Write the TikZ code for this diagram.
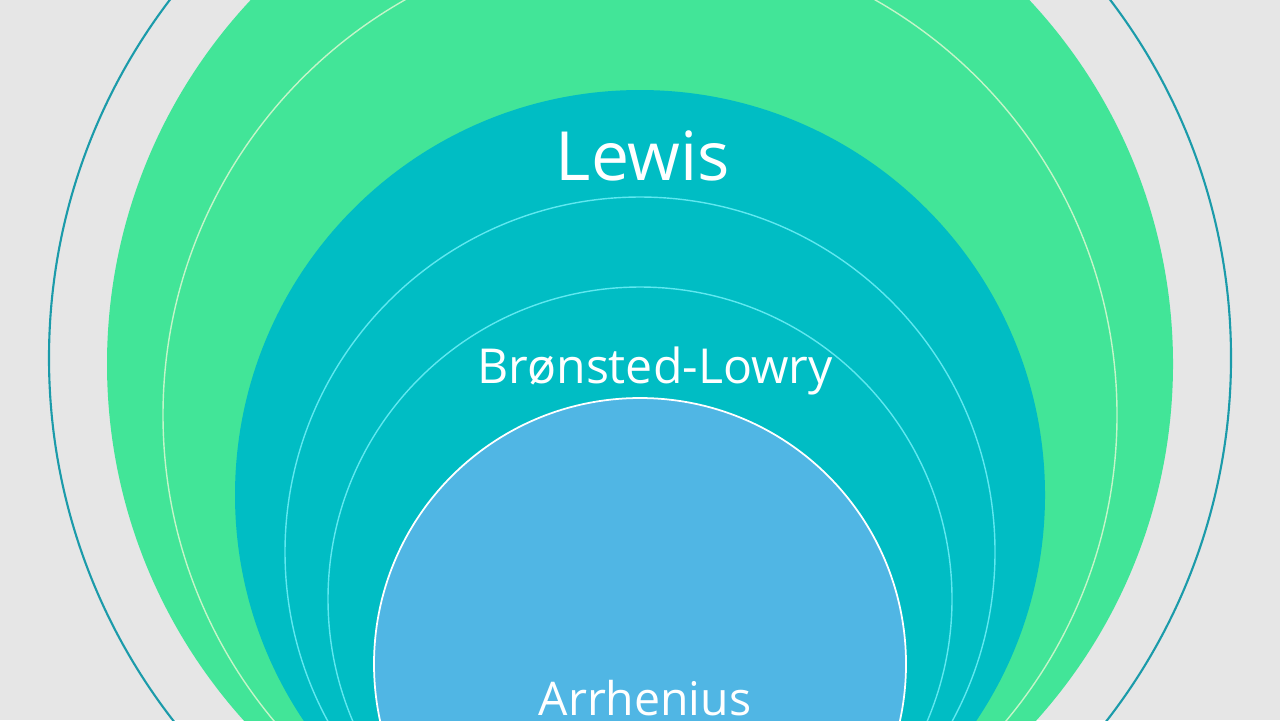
\documentclass[tikz,border=0pt]{standalone}
\usepackage{fontspec}
\setmainfont{Open Sans}
\usetikzlibrary{positioning}

\definecolor{bgGrey}{RGB}{230,230,230}
\definecolor{ringTeal}{RGB}{27,155,170}
\definecolor{lewisGreen}{RGB}{66,229,152}
\definecolor{lewisLine}{RGB}{195,245,200}
\definecolor{bronTeal}{RGB}{0,189,196}
\definecolor{bronLine}{RGB}{95,232,240}
\definecolor{arrBlue}{RGB}{80,182,228}

\tikzset{
    label/.style={text=white, inner sep=0pt, anchor=base},
    thin ring/.style={draw, line width=0.4pt}
}

\begin{document}
\begin{tikzpicture}[x=0.01cm, y=-0.01cm]
        \useasboundingbox (0,0) rectangle (1280,720);
        \fill[bgGrey] (0,0) rectangle (1280,720);
        \clip (0,0) rectangle (1280,720);
        
        \coordinate (o) at (640, 358);
        \coordinate (g) at (640, 364);
        \coordinate (gl) at (640, 415);
        \coordinate (t) at (640, 495);
        \coordinate (t1) at (640, 552);
        \coordinate (t2) at (640, 599);
        \coordinate (b) at (640, 664);
        
        \draw[ringTeal, line width=0.6pt] (o) circle (591);
        
        \fill[lewisGreen] (g) circle (533);
        \draw[thin ring, lewisLine] (gl) circle (477);
        
        \fill[bronTeal] (t) circle (405);
        \draw[thin ring, bronLine] (t1) circle (355);
        \draw[thin ring, bronLine] (t2) circle (312);
        
        \filldraw[fill=arrBlue, draw=white, line width=0.5pt] (b) circle (266);
        
        \node[label, font=\fontsize{19.3}{23}\selectfont] (lewis) at (643, 180) {Lewis};
        \node[label, font=\fontsize{13.7}{16}\selectfont] (bronsted) at (655, 383) {Brønsted-Lowry};
        \node[label, font=\fontsize{13.2}{16}\selectfont] (arrhenius) at (645, 715) {Arrhenius};
        
    \end{tikzpicture}
\end{document}
